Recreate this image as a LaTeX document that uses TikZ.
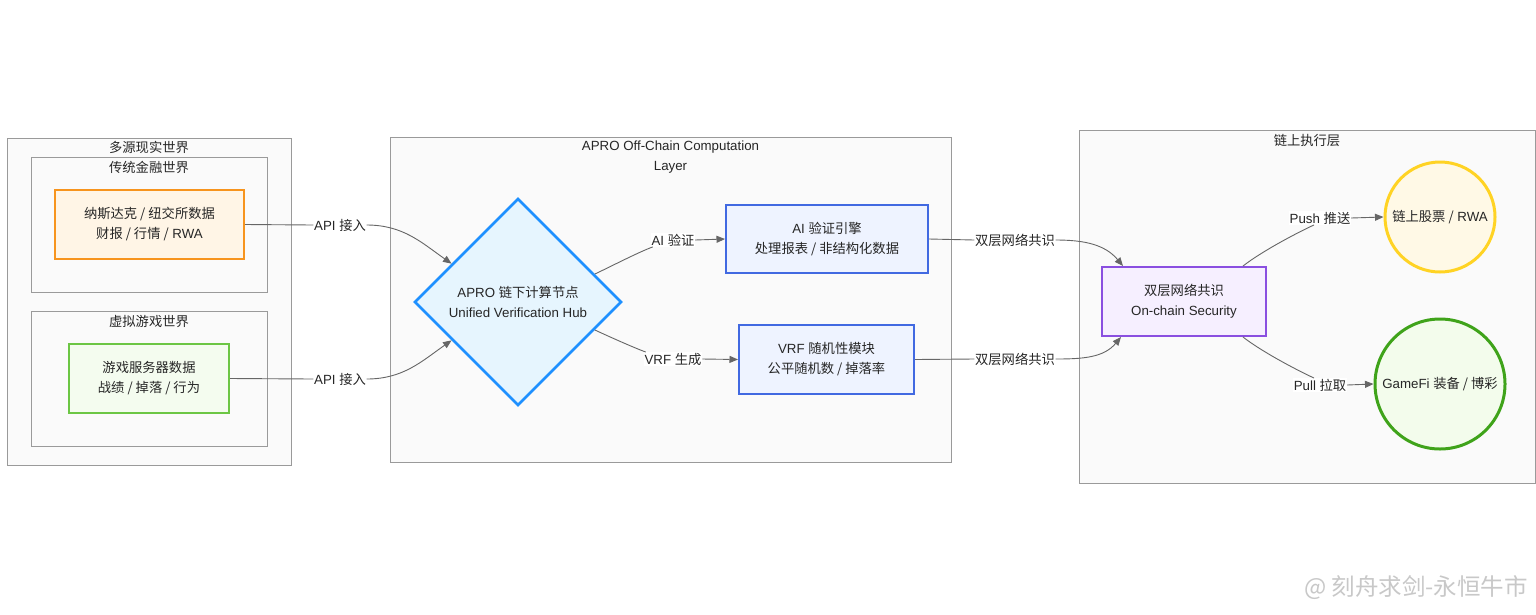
\documentclass[tikz,border=0pt]{standalone}
\usepackage{fontspec}
\setmainfont{Liberation Sans}
\newfontfamily\cjk{Noto Sans CJK SC}
\usetikzlibrary{shapes.geometric,arrows.meta}
\definecolor{contfill}{HTML}{FAFAFA}
\definecolor{contdraw}{HTML}{9A9A9A}
\definecolor{orgdraw}{HTML}{F7941D}
\definecolor{orgfill}{HTML}{FFF5E6}
\definecolor{grndraw}{HTML}{6CC644}
\definecolor{grnfill}{HTML}{F4FCEF}
\definecolor{hubdraw}{HTML}{1E90FF}
\definecolor{hubfill}{HTML}{E6F5FE}
\definecolor{bludraw}{HTML}{4169E1}
\definecolor{blufill}{HTML}{EEF3FF}
\definecolor{purdraw}{HTML}{8A4FE0}
\definecolor{purfill}{HTML}{F6EFFF}
\definecolor{yeldraw}{HTML}{FFD324}
\definecolor{yelfill}{HTML}{FFF9E6}
\definecolor{gcdraw}{HTML}{3FA31A}
\definecolor{gcfill}{HTML}{F3FCEC}
\definecolor{edgecol}{HTML}{666666}
\definecolor{wmark}{HTML}{C8C8C8}
\tikzset{
  every node/.style={font=\fontsize{13.3}{20}\selectfont, align=center, inner sep=0pt, text=black!85},
  cont/.style={draw=contdraw, fill=contfill, line width=1pt, rectangle},
  ctitle/.style={},
  procbox/.style={rectangle, line width=2pt},
  elab/.style={fill=white, inner sep=0.6pt},
  conn/.style={draw=edgecol, line width=0.9pt},
  arr/.style={-{Triangle[length=8.5pt,width=7pt]}},
}
\begin{document}
\begin{tikzpicture}[x=1pt,y=-1pt]
\useasboundingbox[fill=white] (0,0) rectangle (1536,614);

% containers
\node[cont, minimum width=284, minimum height=327] (src) at (149,301.5) {};
\node[cont, minimum width=236, minimum height=135] (fin) at (149,224.5) {};
\node[cont, minimum width=236, minimum height=135] (game) at (149,378.5) {};
\node[cont, minimum width=561, minimum height=325] (off) at (670.5,299.5) {};
\node[cont, minimum width=456, minimum height=353] (chain) at (1307,306.5) {};

% titles
\node[ctitle] (tsrc) at (149,147.5) {\cjk 多源现实世界};
\node[ctitle] (tfin) at (149,167.5) {\cjk 传统金融世界};
\node[ctitle] (tgame) at (149,321.5) {\cjk 虚拟游戏世界};
\node[ctitle] (toff) at (670.5,157.5) {APRO Off-Chain Computation\\Layer};
\node[ctitle] (tchain) at (1307,140.5) {\cjk 链上执行层};

% boxes
\node[procbox, draw=orgdraw, fill=orgfill, minimum width=189, minimum height=69] (nasdaq) at (149.5,224.5)
  {{\cjk 纳斯达克 / 纽交所数据}\\{\cjk 财报 / 行情 /} RWA};
\node[procbox, draw=grndraw, fill=grnfill, minimum width=160, minimum height=69] (gamesrv) at (149,378.5)
  {{\cjk 游戏服务器数据}\\{\cjk 战绩 / 掉落 / 行为}};
\node[diamond, aspect=1, draw=hubdraw, fill=hubfill, line width=2.6pt, minimum width=207, minimum height=207] (hub) at (518,302)
  {APRO {\cjk 链下计算节点}\\Unified Verification Hub};
\node[procbox, draw=bludraw, fill=blufill, minimum width=202, minimum height=68] (ai) at (827,239)
  {AI {\cjk 验证引擎}\\{\cjk 处理报表 / 非结构化数据}};
\node[procbox, draw=bludraw, fill=blufill, minimum width=175, minimum height=69] (vrf) at (826.5,359.5)
  {VRF {\cjk 随机性模块}\\{\cjk 公平随机数 / 掉落率}};
\node[procbox, draw=purdraw, fill=purfill, minimum width=164, minimum height=69] (sec) at (1184,301.5)
  {{\cjk 双层网络共识}\\On-chain Security};
\node[circle, draw=yeldraw, fill=yelfill, line width=3pt, minimum size=110] (stock) at (1440,217)
  {{\cjk 链上股票 /} RWA};
\node[circle, draw=gcdraw, fill=gcfill, line width=3pt, minimum size=130] (gamefi) at (1440,384)
  {GameFi {\cjk 装备 / 博彩}};

% edge labels
\node[elab] (api1) at (340,225) {API {\cjk 接入}};
\node[elab] (api2) at (340,379) {API {\cjk 接入}};
\node[elab] (lai) at (673,240) {AI {\cjk 验证}};
\node[elab] (lvrf) at (673,359) {VRF {\cjk 生成}};
\node[elab] (lc1) at (1015,240) {\cjk 双层网络共识};
\node[elab] (lc2) at (1015,359) {\cjk 双层网络共识};
\node[elab] (lpush) at (1320,218) {Push {\cjk 推送}};
\node[elab] (lpull) at (1320,385) {Pull {\cjk 拉取}};

% connectors
\draw[conn] (nasdaq.east) -- (api1.west);
\draw[conn,arr] (api1.east) to[out=0,in=145] (hub.150);
\draw[conn] (gamesrv.east) -- (api2.west);
\draw[conn,arr] (api2.east) to[out=0,in=215] (hub.210);
\draw[conn] (hub.20) to[out=25,in=200,looseness=0.6] ([xshift=2pt]lai.south west);
\draw[conn,arr] (lai.east) -- (ai.west);
\draw[conn] (hub.-20) to[out=-25,in=160,looseness=0.6] ([xshift=2pt]lvrf.north west);
\draw[conn,arr] (lvrf.east) -- (vrf.west);
\draw[conn] (ai.east) -- (lc1.west);
\draw[conn,arr] (lc1.east) to[out=0,in=130] ([xshift=22pt]sec.north west);
\draw[conn] (vrf.east) -- (lc2.west);
\draw[conn,arr] (lc2.east) to[out=0,in=230] ([xshift=20pt]sec.south west);
\draw[conn] ([xshift=-24pt]sec.north east) to[out=38,in=205,looseness=0.7] ([xshift=-6pt]lpush.south);
\draw[conn,arr] (lpush.east) -- (stock.west);
\draw[conn] ([xshift=-24pt]sec.south east) to[out=-38,in=155,looseness=0.7] ([xshift=-6pt]lpull.north);
\draw[conn,arr] (lpull.east) -- (gamefi.west);

% watermark
\node[anchor=east, text=wmark, font=\fontsize{23.5}{28}\selectfont] (wm) at (1528,588) {\cjk @ 刻舟求剑-永恒牛市};
\end{tikzpicture}
\end{document}
